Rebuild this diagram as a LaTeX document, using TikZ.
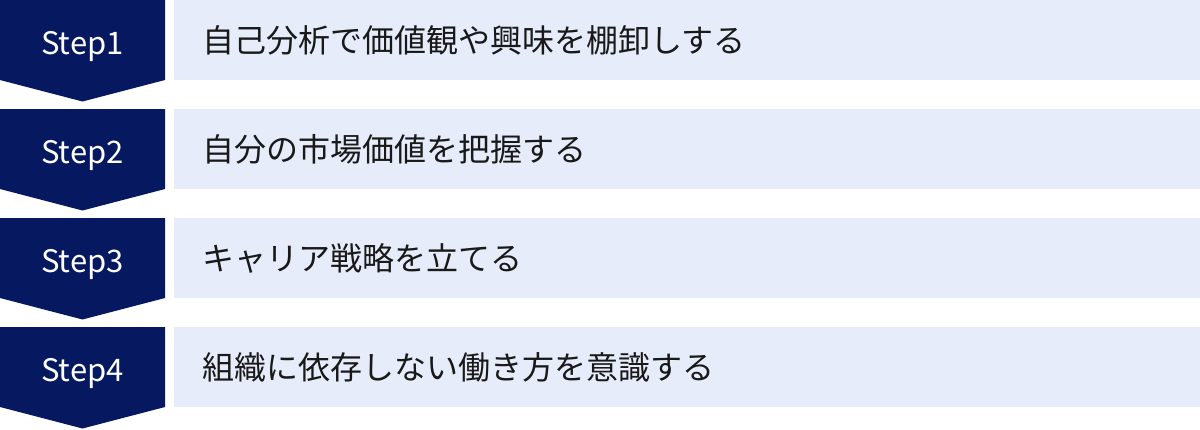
\documentclass[tikz,border=0pt]{standalone}
\usepackage{fontspec}
\setmainfont{Noto Sans CJK JP}
\usepackage{tikz}
\definecolor{stepnavy}{RGB}{6,24,96}
\definecolor{rowblue}{RGB}{230,236,250}
\tikzset{
  steplabel/.style={text=white, inner sep=0pt, anchor=base, font=\fontsize{31}{31}\selectfont},
  desclabel/.style={text=black!90, inner sep=0pt, anchor=base west, font=\fontsize{32}{32}\selectfont}
}

\begin{document}
\begin{tikzpicture}[x=1pt,y=-1pt]
  \useasboundingbox (0,0) rectangle (1200,429);
  % four steps, each a chevron and a row
  \foreach \i/\txt in {1/自己分析で価値観や興味を棚卸しする,
                       2/自分の市場価値を把握する,
                       3/キャリア戦略を立てる,
                       4/組織に依存しない働き方を意識する} {
    \pgfmathsetmacro{\rowtop}{(\i-1)*109}
    % chevron
    \fill[stepnavy] (0,\rowtop) -- (165,\rowtop) -- (165,\rowtop+80)
      -- (82.5,\rowtop+101.5) -- (0,\rowtop+80) -- cycle;
    % row band
    \fill[rowblue] (174,\rowtop) rectangle (1200,\rowtop+80);
    % labels
    \node[steplabel] (step\i) at (82.5,\rowtop+54) {Step\i};
    \node[desclabel] (desc\i) at (202,\rowtop+52) {\txt};
  }
\end{tikzpicture}
\end{document}
